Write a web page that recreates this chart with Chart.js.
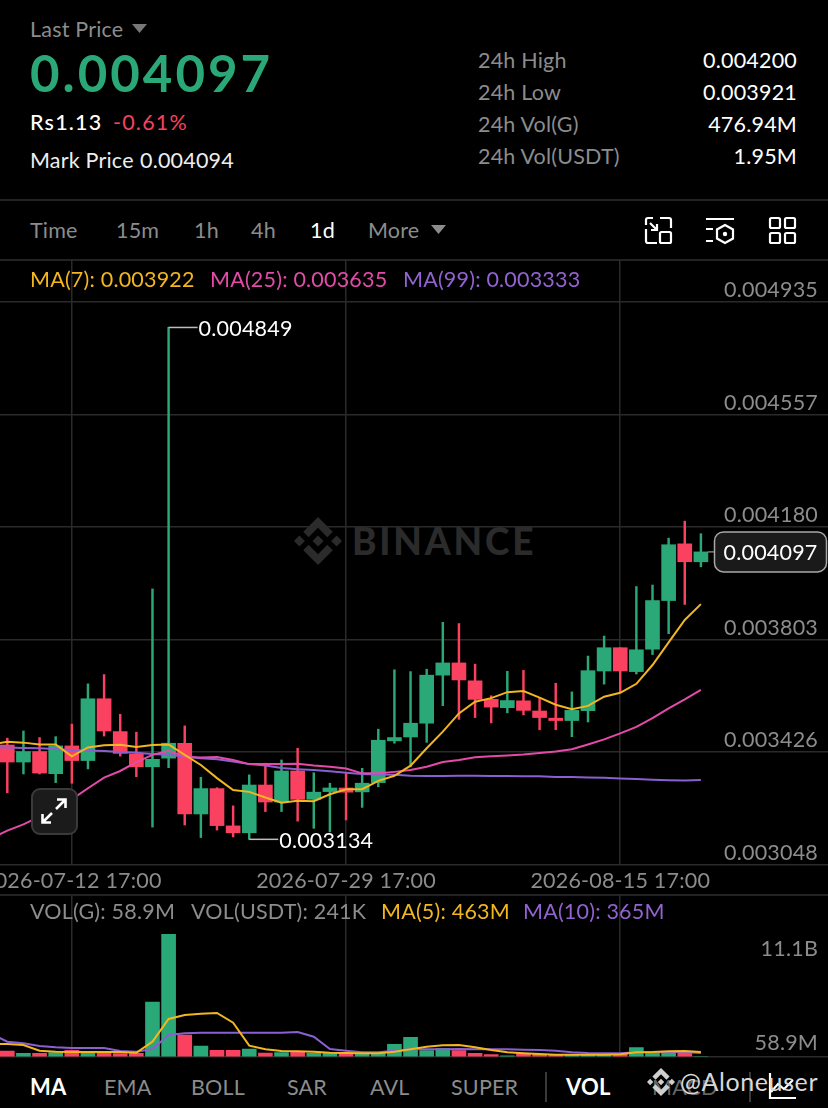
<!DOCTYPE html>
<html><head><meta charset="utf-8">
<script src="https://cdn.jsdelivr.net/npm/chart.js@4"></script>
<style>
html,body{margin:0;padding:0;background:#000;}
#page{position:relative;width:828px;height:1108px;overflow:hidden;background:#000;font-family:Lato,sans-serif;font-size:21.5px;letter-spacing:.2px;color:#8c8c8c;}
#page .t{position:absolute;white-space:nowrap;line-height:26px;height:26px;margin-top:-13px;}
#page .r{text-align:right;}
.w{color:#fff}.rd{color:#f8405e}.gr{color:#2ba878}.y{color:#f2b61e}.pk{color:#e24ba8}.pu{color:#9263d0}
.hl{position:absolute;left:0;width:828px;height:2px;background:#232323}
canvas{position:absolute;left:0;display:block}
svg{position:absolute;overflow:visible}
</style></head>
<body><div id="page">
<span class="t" style="left:30px;top:29px;">Last Price</span>
<svg style="left:132px;top:24px" width="15" height="10"><path d="M0 0H15L7.5 9Z" fill="#777"/></svg>
<span class="t gr" style="left:30px;top:73px;font-size:51px;font-weight:700;letter-spacing:3px;height:60px;line-height:60px;margin-top:-30px">0.004097</span>
<span class="t w" style="left:30px;top:122px;letter-spacing:1.2px;font-weight:500">Rs1.13</span>
<span class="t rd" style="left:113px;top:122px;letter-spacing:1.2px">-0.61%</span>
<span class="t" style="left:30px;top:160px;color:#eee">Mark Price</span>
<span class="t" style="left:140px;top:160px;color:#eee">0.004094</span>
<span class="t" style="left:478px;top:60px">24h High</span>
<span class="t" style="left:478px;top:92px">24h Low</span>
<span class="t" style="left:478px;top:124px">24h Vol(G)</span>
<span class="t" style="left:478px;top:156px">24h Vol(USDT)</span>
<span class="t r w" style="right:31px;top:60px">0.004200</span>
<span class="t r w" style="right:31px;top:92px">0.003921</span>
<span class="t r w" style="right:31px;top:124px">476.94M</span>
<span class="t r w" style="right:31px;top:156px">1.95M</span>
<div class="hl" style="top:199px"></div>
<span class="t" style="left:30px;top:230px">Time</span>
<span class="t" style="left:116px;top:230px">15m</span>
<span class="t" style="left:194px;top:230px">1h</span>
<span class="t" style="left:251px;top:230px">4h</span>
<span class="t w" style="left:310px;top:230px">1d</span>
<span class="t" style="left:368px;top:230px">More</span>
<svg style="left:431px;top:225px" width="15" height="10"><path d="M0 0H15L7.5 9Z" fill="#8c8c8c"/></svg>
<svg style="left:645px;top:217px" width="27" height="27" fill="none" stroke="#fff" stroke-width="2.2"><path d="M15 1H24Q26 1 26 3V11M1 12V24Q1 26 3 26H12M1 8V3Q1 1 3 1H8"/><rect x="15" y="15" width="11" height="11" rx="1.5"/><path d="M5 6L12 13M12 7V13H6"/></svg>
<svg style="left:706px;top:218px" width="28" height="28" fill="none" stroke="#fff" stroke-width="2.2"><path d="M0 1H28M0 11H7M0 23H7"/><path d="M19 7L27 11.5V20.5L19 25L11 20.5V11.5Z"/><circle cx="19" cy="16" r="2.2" fill="#fff" stroke="none"/></svg>
<svg style="left:769px;top:217px" width="27" height="27" fill="none" stroke="#fff" stroke-width="2.2"><rect x="1" y="1" width="10" height="10" rx="1.5"/><rect x="16" y="1" width="10" height="10" rx="1.5"/><rect x="1" y="16" width="10" height="10" rx="1.5"/><rect x="16" y="16" width="10" height="10" rx="1.5"/></svg>
<div class="hl" style="top:259px"></div>

<svg style="left:294px;top:517px" width="48" height="48" viewBox="0 0 126.61 126.61" fill="#2b2b2b"><path d="m38.73 53.2 24.59-24.58 24.6 24.6 14.3-14.31L63.32 0 24.43 38.9l14.3 14.3z"/><path d="m0 63.31 14.3-14.31 14.31 14.31-14.31 14.3z"/><path d="m38.73 73.41 24.59 24.59 24.6-24.6 14.31 14.29-38.9 38.91-38.91-38.88-.02-.02z"/><path d="m98 63.31 14.3-14.31 14.31 14.3-14.31 14.32z"/><path d="m77.83 63.3-14.51-14.52-10.73 10.73-1.24 1.23-2.54 2.54 14.51 14.5 14.51-14.47z"/></svg>
<span class="t" style="left:352px;top:541px;font-size:37px;font-weight:900;color:#2b2b2b;letter-spacing:2.8px;height:40px;line-height:40px;margin-top:-20px">BINANCE</span>

<canvas id="priceCanvas" width="828" height="635" style="top:260px"></canvas>
<span class="t y" style="left:30px;top:279px">MA(7): 0.003922</span>
<span class="t pk" style="left:210px;top:279px">MA(25): 0.003635</span>
<span class="t pu" style="left:403px;top:279px">MA(99): 0.003333</span>

<div style="position:absolute;left:31px;top:788px;width:43px;height:43px;background:#1b1b1b;border:2px solid #3a3a3a;border-radius:9px"></div>
<svg style="left:41px;top:798px" width="26" height="26" fill="none" stroke="#fff" stroke-width="2.6"><path d="M15 11L24 2M16 1.5H24.5V10M11 15L2 24M1.5 16V24.5H10"/></svg>

<div class="hl" style="top:894px"></div>
<canvas id="volCanvas" width="828" height="170" style="top:895px"></canvas>
<span class="t" style="left:30px;top:911px">VOL(G): 58.9M</span>
<span class="t" style="left:191px;top:911px">VOL(USDT): 241K</span>
<span class="t y" style="left:381px;top:911px">MA(5): 463M</span>
<span class="t pu" style="left:523px;top:911px">MA(10): 365M</span>

<span class="t w" style="left:30px;top:1087px;font-weight:700;font-size:22px">MA</span>
<span class="t" style="left:104px;top:1087px">EMA</span>
<span class="t" style="left:191px;top:1087px">BOLL</span>
<span class="t" style="left:287px;top:1087px">SAR</span>
<span class="t" style="left:370px;top:1087px">AVL</span>
<span class="t" style="left:451px;top:1087px">SUPER</span>
<div style="position:absolute;left:545px;top:1072px;width:2px;height:30px;background:#3a3a3a"></div>
<span class="t w" style="left:566px;top:1087px;font-weight:700;font-size:22px">VOL</span>
<span class="t" style="left:652px;top:1087px;color:#666">MACD</span>
<div style="position:absolute;left:749px;top:1072px;width:2px;height:30px;background:#3a3a3a"></div>
<svg style="left:769px;top:1073px" width="28" height="28" fill="none" stroke="#fff" stroke-width="2.2"><path d="M1 0V25H27"/><path d="M2 19L9 11L15 16L24 7"/></svg>
<svg style="left:647px;top:1068px" width="28" height="28" viewBox="0 0 126.61 126.61" fill="#cfcfcf"><path d="m38.73 53.2 24.59-24.58 24.6 24.6 14.3-14.31L63.32 0 24.43 38.9l14.3 14.3z"/><path d="m0 63.31 14.3-14.31 14.31 14.31-14.31 14.3z"/><path d="m38.73 73.41 24.59 24.59 24.6-24.6 14.31 14.29-38.9 38.91-38.91-38.88-.02-.02z"/><path d="m98 63.31 14.3-14.31 14.31 14.3-14.31 14.32z"/><path d="m77.83 63.3-14.51-14.52-10.73 10.73-1.24 1.23-2.54 2.54 14.51 14.5 14.51-14.47z"/></svg>
<span class="t" style="left:680px;top:1081px;font-size:25px;color:#d8d8d8;letter-spacing:.6px">@Aloneuser</span>
</div>
<script>
const categories = ["2026-07-07 17:00","2026-07-08 17:00","2026-07-09 17:00","2026-07-10 17:00","2026-07-11 17:00","2026-07-12 17:00","2026-07-13 17:00","2026-07-14 17:00","2026-07-15 17:00","2026-07-16 17:00","2026-07-17 17:00","2026-07-18 17:00","2026-07-19 17:00","2026-07-20 17:00","2026-07-21 17:00","2026-07-22 17:00","2026-07-23 17:00","2026-07-24 17:00","2026-07-25 17:00","2026-07-26 17:00","2026-07-27 17:00","2026-07-28 17:00","2026-07-29 17:00","2026-07-30 17:00","2026-07-31 17:00","2026-08-01 17:00","2026-08-02 17:00","2026-08-03 17:00","2026-08-04 17:00","2026-08-05 17:00","2026-08-06 17:00","2026-08-07 17:00","2026-08-08 17:00","2026-08-09 17:00","2026-08-10 17:00","2026-08-11 17:00","2026-08-12 17:00","2026-08-13 17:00","2026-08-14 17:00","2026-08-15 17:00","2026-08-16 17:00","2026-08-17 17:00","2026-08-18 17:00","2026-08-19 17:00","2026-08-20 17:00"];
const opens = [null,0.003450,0.003393,0.003428,0.003354,0.003447,0.003398,0.003605,0.003495,0.003420,0.003377,0.003406,0.003456,0.003219,0.003304,0.003179,0.003156,0.003316,0.003259,0.003363,0.003268,0.003294,0.003306,0.003293,0.003324,0.003464,0.003477,0.003523,0.003684,0.003725,0.003665,0.003603,0.003575,0.003598,0.003564,0.003540,0.003532,0.003565,0.003698,0.003776,0.003696,0.003771,0.003934,0.004124,0.004064];
const closes = [null,0.003393,0.003428,0.003356,0.003447,0.003398,0.003605,0.003497,0.003422,0.003377,0.003402,0.003456,0.003219,0.003304,0.003180,0.003156,0.003316,0.003259,0.003363,0.003268,0.003292,0.003306,0.003292,0.003322,0.003466,0.003475,0.003523,0.003684,0.003725,0.003668,0.003603,0.003577,0.003599,0.003566,0.003542,0.003532,0.003566,0.003699,0.003776,0.003698,0.003769,0.003934,0.004121,0.004064,0.004097];
const highs = [null,0.003473,0.003497,0.003475,0.003478,0.003520,0.003655,0.003686,0.003553,0.003493,0.003973,0.004849,0.003514,0.003342,0.003307,0.003246,0.003350,0.003389,0.003400,0.003439,0.003357,0.003322,0.003355,0.003372,0.003503,0.003702,0.003696,0.003704,0.003861,0.003857,0.003721,0.003615,0.003697,0.003700,0.003607,0.003657,0.003628,0.003748,0.003815,0.003776,0.003981,0.003986,0.004143,0.004200,0.004158];
const lows = [null,0.003290,0.003353,0.003353,0.003324,0.003322,0.003370,0.003480,0.003413,0.003344,0.003175,0.003374,0.003182,0.003140,0.003165,0.003142,0.003134,0.003227,0.003227,0.003195,0.003171,0.003159,0.003199,0.003241,0.003310,0.003456,0.003377,0.003459,0.003582,0.003536,0.003542,0.003524,0.003558,0.003551,0.003501,0.003501,0.003478,0.003527,0.003654,0.003625,0.003688,0.003753,0.003823,0.003921,0.004047];
const ma7 = [0.003452,0.003461,0.003458,0.003452,0.003452,0.003412,0.003442,0.003449,0.003451,0.003443,0.003450,0.003452,0.003417,0.003383,0.003339,0.003299,0.003293,0.003274,0.003257,0.003263,0.003262,0.003285,0.003302,0.003302,0.003330,0.003347,0.003381,0.003439,0.003495,0.003556,0.003595,0.003607,0.003627,0.003631,0.003609,0.003585,0.003570,0.003581,0.003612,0.003625,0.003655,0.003718,0.003794,0.003869,0.003922];
const ma25 = [0.003138,0.003163,0.003184,0.003210,0.003235,0.003268,0.003305,0.003341,0.003363,0.003393,0.003417,0.003431,0.003411,0.003408,0.003410,0.003400,0.003386,0.003386,0.003386,0.003387,0.003381,0.003377,0.003371,0.003355,0.003355,0.003360,0.003366,0.003377,0.003393,0.003400,0.003409,0.003412,0.003415,0.003418,0.003423,0.003428,0.003436,0.003452,0.003469,0.003489,0.003511,0.003540,0.003573,0.003603,0.003635];
const ma99 = [0.003443,0.003442,0.003440,0.003439,0.003437,0.003433,0.003432,0.003430,0.003427,0.003424,0.003420,0.003417,0.003411,0.003406,0.003402,0.003395,0.003386,0.003381,0.003373,0.003369,0.003366,0.003362,0.003357,0.003353,0.003351,0.003350,0.003347,0.003346,0.003346,0.003347,0.003347,0.003346,0.003346,0.003345,0.003345,0.003343,0.003343,0.003341,0.003340,0.003338,0.003336,0.003334,0.003332,0.003331,0.003333];
const priceTicks = [0.003048,0.003426,0.003803,0.004180,0.004557,0.004935];
const priceTickLabels = ["0.003048","0.003426","0.003803","0.004180","0.004557","0.004935"];
const dateTickIndexes = [5,22,39];
const volumes = [null,556,348,348,402,619,493,438,312,348,4983,11100,2002,1008,619,619,737,375,402,466,375,348,348,330,348,1161,1794,583,800,583,348,222,122,312,258,222,258,222,222,285,854,348,348,348,58.9];
const volMa5 = [1188,1188,1098,583,493,466,466,466,466,402,1396,3447,3809,3926,3989,3113,1035,710,556,529,493,402,375,348,348,493,710,944,1071,1098,890,646,438,348,285,222,222,222,222,258,438,466,529,556,463];
const volMa10 = [2100,1396,1252,1008,890,827,827,827,556,493,737,2002,2155,2209,2209,2209,2209,2209,2209,2273,1848,737,583,438,438,583,710,710,710,737,710,710,710,673,646,583,438,375,348,348,438,438,466,466,365];
const volTickLow = [58.9], volTickHigh = [11100];
const volTickLowLabels = ["58.9M"], volTickHighLabels = ["11.1B"];

const GREEN="#2ba878", RED="#fb4160", GRID="#2a2a2a", TICK="#8c8c8c";
const FONT="Lato, sans-serif";
const idx = categories.map((_,i)=>i);
const up = idx.map(i=>closes[i]>=opens[i]);
const colorFor = idx.map(i=>up[i]?GREEN:RED);
const has = idx.filter(i=>opens[i]!==null);
const flat = s=>{s.paddingLeft=s.paddingRight=s.paddingTop=s.paddingBottom=0;};
const xMin=0.5474, xMax=51.88;

function xScale(showLabels){
  return {type:'linear',min:xMin,max:xMax,offset:false,
    afterBuildTicks:s=>{s.ticks=dateTickIndexes.map(v=>({value:v}));},
    afterFit:s=>{flat(s);s.height=showLabels?30:0;},
    border:{display:false},
    grid:{color:GRID,lineWidth:1.5,drawTicks:false,offset:false},
    ticks:{display:showLabels,autoSkip:false,maxRotation:0,minRotation:0,padding:3,color:TICK,font:{family:FONT,size:21.5},
      callback:v=>categories[v]}};
}

const annotate={id:'annotate',afterDraw(c){
  const g=c.ctx,x=c.scales.x,y=c.scales.y;
  g.save();
  g.font="21.5px "+FONT;g.textBaseline='middle';
  const hi=has.reduce((a,b)=>highs[b]>highs[a]?b:a);
  const lo=has.reduce((a,b)=>lows[b]<lows[a]?b:a);
  [[hi,highs[hi]],[lo,lows[lo]]].forEach(([i,v])=>{
    const px=x.getPixelForValue(i),py=y.getPixelForValue(v);
    g.strokeStyle="#bdbdbd";g.lineWidth=1.5;
    g.beginPath();g.moveTo(px,py);g.lineTo(px+29,py);g.stroke();
    g.fillStyle="#fff";g.textAlign='left';g.fillText(v.toFixed(6),px+30,py+1.5);
  });
  const last=has[has.length-1],py=y.getPixelForValue(closes[last]),px=x.getPixelForValue(last);
  g.strokeStyle="#999";g.lineWidth=1.2;
  g.beginPath();g.moveTo(px+7,py);g.lineTo(714,py);g.stroke();
  g.fillStyle="#1a1a1a";g.strokeStyle="#a8a8a8";g.lineWidth=1.5;
  g.beginPath();g.roundRect(714.5,py-20,112,40,9);g.fill();g.stroke();
  g.fillStyle="#fff";g.textAlign='center';g.fillText(closes[last].toFixed(6),770.5,py+1);
  g.restore();
}};

new Chart(document.getElementById('priceCanvas'),{
  data:{datasets:[
    {type:'line',data:idx.map(i=>({x:i,y:ma99[i]})),borderColor:'#8a5fd0',borderWidth:2,pointRadius:0,order:2},
    {type:'line',data:idx.map(i=>({x:i,y:ma25[i]})),borderColor:'#e24ba8',borderWidth:2,pointRadius:0,order:1},
    {type:'line',data:idx.map(i=>({x:i,y:ma7[i]})),borderColor:'#f2b61e',borderWidth:2,pointRadius:0,order:0},
    {type:'bar',data:has.map(i=>({x:i,y:[opens[i],closes[i]]})),backgroundColor:has.map(i=>colorFor[i]),barThickness:14,grouped:false,order:3},
    {type:'bar',data:has.map(i=>({x:i,y:[lows[i],highs[i]]})),backgroundColor:has.map(i=>colorFor[i]),barThickness:1.8,grouped:false,order:4}
  ]},
  options:{responsive:false,animation:false,devicePixelRatio:1,
    layout:{padding:0},
    plugins:{legend:{display:false},tooltip:{enabled:false}},
    scales:{
      x:xScale(true),
      y:{type:'linear',position:'right',min:0.003048,max:0.005075,
        afterBuildTicks:s=>{s.ticks=priceTicks.map(v=>({value:v}));},
        afterFit:s=>{flat(s);s.width=0;},
        border:{display:false},
        grid:{color:GRID,lineWidth:1.5,drawTicks:false},
        ticks:{mirror:true,padding:-10,labelOffset:-12,color:TICK,font:{family:FONT,size:21.5},
          callback:v=>priceTickLabels[priceTicks.indexOf(v)]}}
    }},
  plugins:[annotate]
});

new Chart(document.getElementById('volCanvas'),{
  data:{datasets:[
    {type:'line',data:idx.map(i=>({x:i,y:volMa10[i]})),borderColor:'#8a5fd0',borderWidth:2,pointRadius:0,order:1},
    {type:'line',data:idx.map(i=>({x:i,y:volMa5[i]})),borderColor:'#f2b61e',borderWidth:2,pointRadius:0,order:0},
    {type:'bar',data:has.map(i=>({x:i,y:volumes[i]})),backgroundColor:has.map(i=>colorFor[i]),barThickness:14,grouped:false,order:2}
  ]},
  options:{responsive:false,animation:false,devicePixelRatio:1,
    layout:{padding:{bottom:8.5}},
    plugins:{legend:{display:false},tooltip:{enabled:false}},
    scales:{
      x:xScale(false),
      y:{type:'linear',position:'right',min:58.9,max:14650,
        afterBuildTicks:s=>{s.ticks=volTickLow.map(v=>({value:v}));},
        afterFit:s=>{flat(s);s.width=0;},
        border:{display:false},
        grid:{color:GRID,lineWidth:1.5,drawTicks:false},
        ticks:{mirror:true,padding:-10,labelOffset:-13,color:TICK,font:{family:FONT,size:21.5},
          callback:v=>volTickLowLabels[volTickLow.indexOf(v)]}},
      y2:{type:'linear',position:'right',min:58.9,max:14650,
        afterBuildTicks:s=>{s.ticks=volTickHigh.map(v=>({value:v}));},
        afterFit:s=>{flat(s);s.width=0;},
        border:{display:false},
        grid:{display:false,drawTicks:false},
        ticks:{mirror:true,padding:-10,labelOffset:15,color:TICK,font:{family:FONT,size:21.5},
          callback:v=>volTickHighLabels[volTickHigh.indexOf(v)]}}
    }}
});
</script>
</body></html>
